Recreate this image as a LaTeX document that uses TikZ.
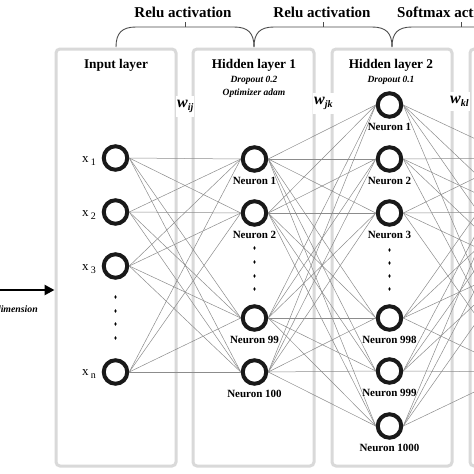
\documentclass[tikz,border=0pt]{standalone}
\usepackage{fontspec}
\setmainfont{Liberation Serif}
\usetikzlibrary{arrows.meta}
\begin{document}
\begin{tikzpicture}[x=1pt,y=-1pt,
  layerbox/.style={draw=black!15, line width=3pt, rounded corners=4pt, minimum width=120pt, minimum height=417pt, inner sep=0pt},
  neuron/.style={circle, draw=black!90, line width=4pt, minimum size=23.5pt, inner sep=0pt},
  conn/.style={draw=black!45, line width=0.5pt},
  brace/.style={draw=black!70, line width=0.9pt},
  title/.style={font=\fontsize{15}{15}\selectfont\bfseries, anchor=base, inner sep=0pt},
  laytitle/.style={font=\fontsize{13.3}{13.3}\selectfont\bfseries, anchor=base, inner sep=0pt},
  laynote/.style={font=\fontsize{9.5}{9.5}\selectfont\bfseries\itshape, anchor=base, inner sep=0pt},
  nlabel/.style={font=\fontsize{11}{11}\selectfont\bfseries, anchor=base, inner sep=0pt},
  xlabel/.style={font=\fontsize{13}{13}\selectfont, anchor=base east, inner sep=0pt},
  wlabel/.style={font=\fontsize{16}{16}\selectfont\bfseries\itshape, fill=white, inner xsep=1pt, inner ysep=4pt, anchor=base west},
  dimlabel/.style={font=\fontsize{9.8}{9.8}\selectfont\bfseries\itshape, anchor=base east, inner sep=0pt},
  dotmark/.style={fill=black}
]
\useasboundingbox (0,0) rectangle (474,474);
\clip (0,0) rectangle (474,474);
\fill[white] (0,0) rectangle (474,474);

% layer boxes
\node[layerbox] (inbox) at (116,257.5) {};
\node[layerbox, minimum width=121pt] (hbox1) at (253.5,257.5) {};
\node[layerbox] (hbox2) at (392,257.5) {};
\node[layerbox] (outbox) at (530,257.5) {};

% titles and braces
\node[title] (t1) at (183,17) {Relu activation};
\node[title] (t2) at (322,17) {Relu activation};
\node[title, anchor=base west] (t3) at (397,17) {Softmax activation};
\draw[brace] (116,47) .. controls (116,33) and (122,27) .. (136,27) -- (234,27) .. controls (248,27) and (254,33) .. (254,47);
\draw[brace] (185,27) -- (185,22);
\draw[brace] (254,47) .. controls (254,33) and (260,27) .. (274,27) -- (372,27) .. controls (386,27) and (392,33) .. (392,47);
\draw[brace] (323,27) -- (323,22);
\draw[brace] (392,47) .. controls (392,33) and (398,27) .. (412,27) -- (510,27) .. controls (524,27) and (530,33) .. (530,47);
\draw[brace] (461,27) -- (461,22);

% layer titles
\node[laytitle] (lt0) at (116,68) {Input layer};
\node[laytitle] (lt1) at (254,68) {Hidden layer 1};
\node[laynote] (ln1a) at (254,82) {Dropout 0.2};
\node[laynote] (ln1b) at (254,95) {Optimizer adam};
\node[laytitle] (lt2) at (391,68) {Hidden layer 2};
\node[laynote] (ln2a) at (391,82) {Dropout 0.1};

% neurons
\node[neuron] (x1) at (115.5,158) {};
\node[neuron] (x2) at (115.5,212) {};
\node[neuron] (x3) at (115.5,266) {};
\node[neuron] (xn) at (115.5,372) {};

\node[neuron] (h1) at (254.5,159) {};
\node[neuron] (h2) at (254.5,213) {};
\node[neuron] (h99) at (254.5,318) {};
\node[neuron] (h100) at (254.5,372) {};

\node[neuron] (k1) at (389.5,105) {};
\node[neuron] (k2) at (389.5,159) {};
\node[neuron] (k3) at (389.5,213) {};
\node[neuron] (k998) at (389.5,318) {};
\node[neuron] (k999) at (389.5,371) {};
\node[neuron] (k1000) at (389.5,426) {};

\coordinate (o1) at (516,158);
\coordinate (o2) at (516,212);
\coordinate (o3) at (516,266);
\coordinate (on) at (516,372);

% connections
\foreach \a in {x1,x2,x3,xn}
  \foreach \b in {h1,h2,h99,h100}
    \draw[conn] (\a.east) -- (\b.west);
\foreach \a in {h1,h2,h99,h100}
  \foreach \b in {k1,k2,k3,k998,k999,k1000}
    \draw[conn] (\a.east) -- (\b.west);
\foreach \a in {k1,k2,k3,k998,k999,k1000}
  \foreach \b in {o1,o2,o3,on}
    \draw[conn] (\a.east) -- (\b);

% dots
\foreach \y in {297,311,324,338} \fill[dotmark] (115.5,\y) ellipse (1.2 and 1.8);
\foreach \y in {248,262,276,289} \fill[dotmark] (254.5,\y) ellipse (1.2 and 1.8);
\foreach \y in {250,263,276,289} \fill[dotmark] (389.5,\y) ellipse (1.2 and 1.8);

% input labels
\node[xlabel] (lx1) at (96,162) {x\,\raisebox{-3pt}{\fontsize{10}{10}\selectfont 1}};
\node[xlabel] (lx2) at (96,216) {x\,\raisebox{-3pt}{\fontsize{10}{10}\selectfont 2}};
\node[xlabel] (lx3) at (96,270) {x\,\raisebox{-3pt}{\fontsize{10}{10}\selectfont 3}};
\node[xlabel] (lxn) at (96,375) {x\,\raisebox{-3pt}{\fontsize{10}{10}\selectfont n}};

% neuron labels
\node[nlabel] (lh1) at (254.5,184) {Neuron 1};
\node[nlabel] (lh2) at (254.5,238) {Neuron 2};
\node[nlabel] (lh99) at (254.5,343) {Neuron 99};
\node[nlabel] (lh100) at (254.5,397) {Neuron 100};
\node[nlabel] (lk1) at (389.5,130) {Neuron 1};
\node[nlabel] (lk2) at (389.5,184) {Neuron 2};
\node[nlabel] (lk3) at (389.5,238) {Neuron 3};
\node[nlabel] (lk998) at (389.5,343) {Neuron 998};
\node[nlabel] (lk999) at (389.5,396) {Neuron 999};
\node[nlabel] (lk1000) at (389.5,451) {Neuron 1000};

% weight labels
\node[wlabel] (wij) at (176,107) {w\raisebox{-3.5pt}{\fontsize{10}{10}\selectfont ij}};
\node[wlabel] (wjk) at (313,104) {w\raisebox{-3.5pt}{\fontsize{10}{10}\selectfont jk}};
\node[wlabel] (wkl) at (449,103) {w\raisebox{-3.5pt}{\fontsize{10}{10}\selectfont kl}};

% input arrow
\coordinate (arrstart) at (-5,290);
\draw[line width=2.5pt, -{Triangle[length=10pt,width=10pt]}] (arrstart) -- (arrstart -| inbox.west);
\node[dimlabel] (dim) at (38,312) {Input dimension};
\end{tikzpicture}
\end{document}
